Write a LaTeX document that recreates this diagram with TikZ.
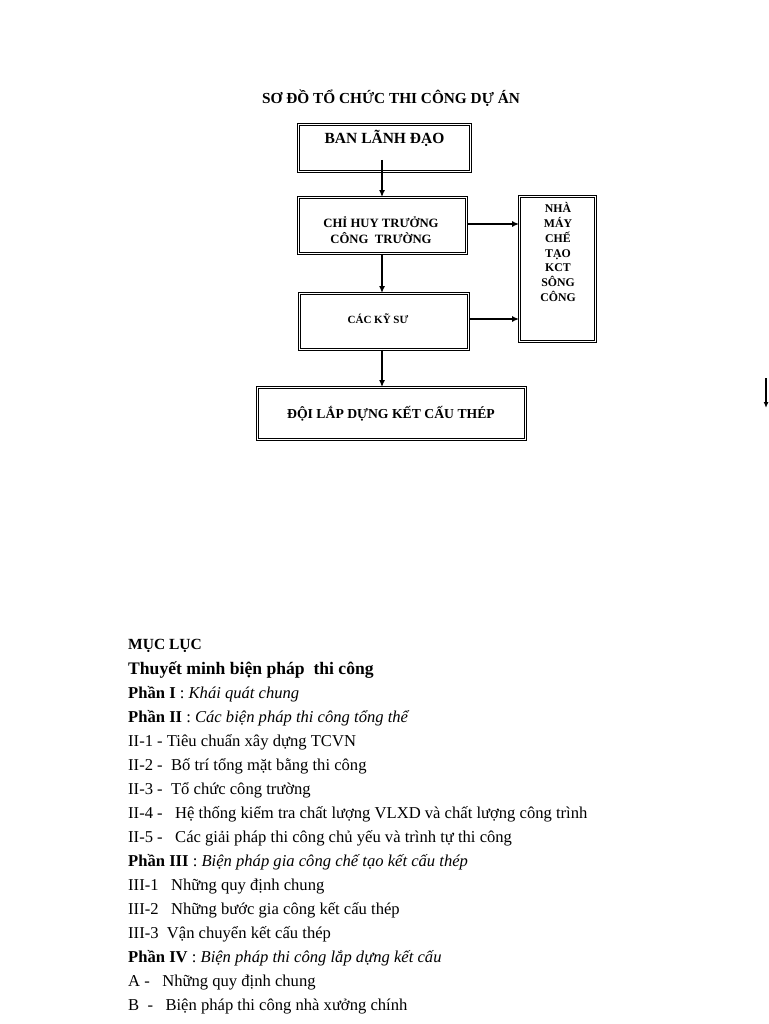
\documentclass[tikz,border=0pt]{standalone}
\usepackage{fontspec}
\setmainfont{Liberation Serif}
\usetikzlibrary{arrows.meta}
\begin{document}
\begin{tikzpicture}[x=1pt,y=-1pt,
  dbox/.style={draw=black, double=white, double distance=1.6pt, line width=0.8pt,
    inner sep=0pt, rectangle},
  boxtext/.style={inner sep=0pt, align=center, font=\bfseries},
  conn/.style={line width=1.8pt, -{Latex[length=7pt,width=6pt]}},
  toc/.style={anchor=base west, inner sep=0pt, font=\fontsize{16.6}{20}\selectfont}
]
\useasboundingbox[fill=white] (0,0) rectangle (768,1024);

% title
\node[boxtext, font=\bfseries\fontsize{15.3}{17}\selectfont] (title) at (391,98) {SƠ ĐỒ TỔ CHỨC THI CÔNG DỰ ÁN};

% boxes
\node[dbox, minimum width=172pt, minimum height=47pt] (ban) at (384.5,148) {};
\node[dbox, minimum width=168pt, minimum height=56pt] (chi) at (382.5,225.5) {};
\node[dbox, minimum width=169pt, minimum height=56pt] (ky) at (384,321.5) {};
\node[dbox, minimum width=268pt, minimum height=52pt] (doi) at (391.5,413.5) {};
\node[dbox, minimum width=76pt, minimum height=145pt] (nha) at (557.5,269) {};

% box texts
\node[boxtext, font=\bfseries\fontsize{15.5}{17}\selectfont] (banT) at (384.5,138) {BAN LÃNH ĐẠO};
\node[boxtext, font=\bfseries\fontsize{12.7}{16}\selectfont] (chiT) at (381,230) {CHỈ HUY TRƯỞNG\\CÔNG\ \ TRƯỜNG};
\node[boxtext, font=\bfseries\fontsize{11}{14}\selectfont] (kyT) at (378,319) {CÁC KỸ SƯ};
\node[boxtext, font=\bfseries\fontsize{13.7}{16}\selectfont] (doiT) at (391,414) {ĐỘI LẮP DỰNG KẾT CẤU THÉP};
\node[boxtext, font=\bfseries\fontsize{11.8}{14.7}\selectfont] (nhaT) at (558,252) {NHÀ\\MÁY\\CHẾ\\TẠO\\KCT\\SÔNG\\CÔNG};

% connectors
\coordinate (a1) at (382,160);
\draw[conn] (a1) -- (a1 |- chi.north);
\draw[conn] (chi.south -| a1) -- (ky.north -| a1);
\draw[conn] (ky.south -| a1) -- (doi.north -| a1);
\coordinate (c1) at (468,224);
\coordinate (c2) at (470,319);
\draw[conn] (c1) -- (c1 -| nha.west);
\draw[conn] (c2) -- (c2 -| nha.west);

% cut-off arrow at right edge
\coordinate (e1) at (766,378);
\coordinate (e2) at (766,408);
\draw[line width=1.4pt, -{Latex[length=6pt,width=5pt]}] (e1) -- (e2);

% table of contents
\node[toc, font=\bfseries\fontsize{15.5}{18}\selectfont] (t1) at (128,649) {MỤC LỤC};
\node[toc, font=\bfseries\fontsize{17.6}{20}\selectfont] (t2) at (128,674) {Thuyết minh biện pháp\ \ thi công};
\node[toc] (t3) at (128,698) {\textbf{Phần I} : \textit{Khái quát chung}};
\node[toc] (t4) at (128,722) {\textbf{Phần II} : \textit{Các biện pháp thi công tổng thể}};
\node[toc] (t5) at (128,746) {II-1 - Tiêu chuẩn xây dựng TCVN};
\node[toc] (t6) at (128,770) {II-2 -\ \ Bố trí tổng mặt bằng thi công};
\node[toc] (t7) at (128,794) {II-3 -\ \ Tổ chức công trường};
\node[toc] (t8) at (128,818) {II-4 -\ \ \ Hệ thống kiểm tra chất lượng VLXD và chất lượng công trình};
\node[toc] (t9) at (128,842) {II-5 -\ \ \ Các giải pháp thi công chủ yếu và trình tự thi công};
\node[toc] (t10) at (128,866) {\textbf{Phần III} : \textit{Biện pháp gia công chế tạo kết cấu thép}};
\node[toc] (t11) at (128,890) {III-1\ \ \ Những quy định chung};
\node[toc] (t12) at (128,914) {III-2\ \ \ Những bước gia công kết cấu thép};
\node[toc] (t13) at (128,938) {III-3\ \ Vận chuyển kết cấu thép};
\node[toc] (t14) at (128,962) {\textbf{Phần IV} : \textit{Biện pháp thi công lắp dựng kết cấu}};
\node[toc] (t15) at (128,986) {A -\ \ \ Những quy định chung};
\node[toc] (t16) at (128,1010) {B\ \ -\ \ \ Biện pháp thi công nhà xưởng chính};
\end{tikzpicture}
\end{document}
